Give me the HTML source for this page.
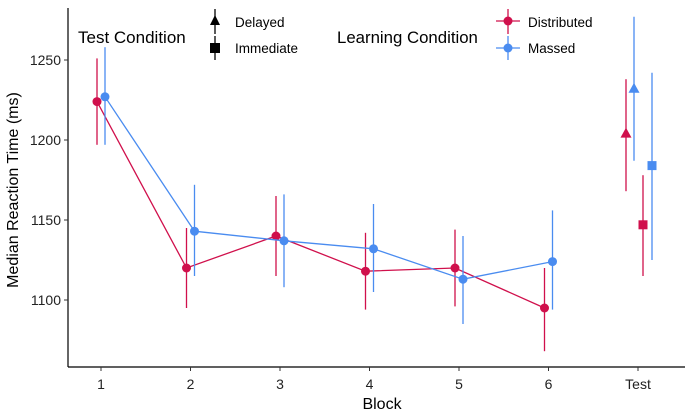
<!DOCTYPE html>
<html><head><meta charset="utf-8"><style>
body{margin:0;background:#fff}
svg{display:block;font-family:"Liberation Sans",Arial,sans-serif}
</style></head><body>
<svg id="chart" width="685" height="413" viewBox="0 0 685 413">
<g id="axes"></g><g id="marks"></g>
<g>
<text x="78" y="43" font-size="17" fill="#000">Test Condition</text>
<line x1="215" y1="9" x2="215" y2="34" stroke="#000" stroke-width="1.3"/>
<polygon points="215,15 220,25 210,25" fill="#000"/>
<text x="235" y="27" font-size="13.5">Delayed</text>
<line x1="215" y1="36" x2="215" y2="60" stroke="#000" stroke-width="1.3"/>
<rect x="210" y="43" width="10" height="10" fill="#000"/>
<text x="235" y="53" font-size="13.5">Immediate</text>
<text x="337" y="43" font-size="16.8">Learning Condition</text>
<line x1="508" y1="9" x2="508" y2="34" stroke="#D0104C" stroke-width="1.3"/>
<line x1="496" y1="21" x2="520" y2="21" stroke="#D0104C" stroke-width="1.3"/>
<circle cx="508" cy="21" r="4.5" fill="#D0104C"/>
<text x="528" y="27" font-size="13.5">Distributed</text>
<line x1="508" y1="36" x2="508" y2="60" stroke="#4A8CF0" stroke-width="1.3"/>
<line x1="496" y1="48" x2="520" y2="48" stroke="#4A8CF0" stroke-width="1.3"/>
<circle cx="508" cy="48" r="4.5" fill="#4A8CF0"/>
<text x="528" y="53" font-size="13.5">Massed</text>
</g>
</svg>
<script>
const categories=["1","2","3","4","5","6","Test"];
const yTicks=[1100,1150,1200,1250];
const distMean=[1224,1120,1140,1118,1120,1095];
const distLo=[1197,1095,1115,1094,1096,1068];
const distHi=[1251,1145,1165,1142,1144,1120];
const massMean=[1227,1143,1137,1132,1113,1124];
const massLo=[1197,1115,1108,1105,1085,1094];
const massHi=[1258,1172,1166,1160,1140,1156];
const testDistMean=[1204,1147];
const testDistLo=[1168,1115];
const testDistHi=[1238,1178];
const testMassMean=[1232,1184];
const testMassLo=[1187,1125];
const testMassHi=[1277,1242];

const NS="http://www.w3.org/2000/svg";
const X=i=>101+i*89.5;
const Y=v=>300-(v-1100)*1.6;
function mk(tag,attrs,parent){const e=document.createElementNS(NS,tag);for(const k in attrs)e.setAttribute(k,attrs[k]);parent.appendChild(e);return e;}
const axes=document.getElementById('axes'),marks=document.getElementById('marks');
let l=mk('line',{x1:68,y1:8,x2:68,y2:367,stroke:'#000','stroke-width':1.2},axes);


l=mk('line',{x1:68,y1:367,x2:685,y2:367,stroke:'#000','stroke-width':1.2},axes);


yTicks.forEach(v=>{
 mk('line',{x1:64,y1:Y(v),x2:68,y2:Y(v),stroke:'#333'},axes);
 const t=mk('text',{x:61,y:Y(v)+5,'text-anchor':'end','font-size':14,fill:'#222'},axes);t.textContent=v;
 
 
});
categories.forEach((c,i)=>{
 mk('line',{x1:X(i),y1:367,x2:X(i),y2:371,stroke:'#333'},axes);
 const t=mk('text',{x:X(i),y:389,'text-anchor':'middle','font-size':14,fill:'#222'},axes);t.textContent=c;
 
 
});
let t=mk('text',{x:382,y:409,'text-anchor':'middle','font-size':16},axes);t.textContent='Block';


t=mk('text',{x:0,y:0,'text-anchor':'middle','font-size':16,transform:'translate(18,190) rotate(-90)'},axes);t.textContent='Median Reaction Time (ms)';



function series(mean,lo,hi,off,col,name){
 const pts=mean.map((v,i)=>(X(i)+off)+','+Y(v)).join(' ');
 const p=mk('polyline',{points:pts,fill:'none',stroke:col,'stroke-width':1.3},marks);
 
 
 mean.forEach((v,i)=>{
  const e=mk('line',{x1:X(i)+off,x2:X(i)+off,y1:Y(lo[i]),y2:Y(hi[i]),stroke:col,'stroke-width':1.3},marks);
  
  
  const c=mk('circle',{cx:X(i)+off,cy:Y(v),r:4.5,fill:col},marks);
  
  
 });
}
series(distMean,distLo,distHi,-4,'#D0104C','distributed');
series(massMean,massLo,massHi,4,'#4A8CF0','massed');
function testPts(mean,lo,hi,offs,col,name){
 mean.forEach((v,i)=>{
  const x=X(6)+offs[i],y=Y(v);
  const e=mk('line',{x1:x,x2:x,y1:Y(lo[i]),y2:Y(hi[i]),stroke:col,'stroke-width':1.3},marks);
  
  
  let m;
  if(i===0) m=mk('polygon',{points:`${x},${y-6} ${x+5.5},${y+4} ${x-5.5},${y+4}`,fill:col},marks);
  else m=mk('rect',{x:x-4.5,y:y-4.5,width:9,height:9,fill:col},marks);
  
  
 });
}
testPts(testDistMean,testDistLo,testDistHi,[-12,5],'#D0104C','distributed');
testPts(testMassMean,testMassLo,testMassHi,[-4,14],'#4A8CF0','massed');
</script>
</body></html>
